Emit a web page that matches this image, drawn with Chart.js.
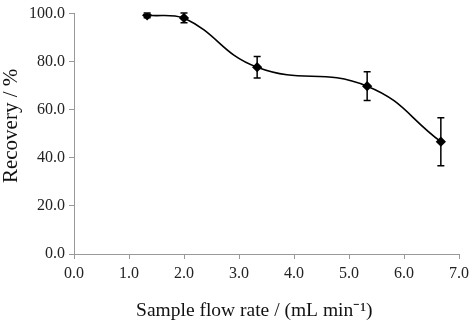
<!DOCTYPE html>
<html><head><meta charset="utf-8">
<script src="https://cdn.jsdelivr.net/npm/chart.js@4"></script>
<style>html,body{margin:0;padding:0;background:#fff}#w{width:474px;height:325px}</style>
</head><body><div id="w"><canvas id="c" width="474" height="325"></canvas></div>
<script>
const flowRates = [1.33, 2.0, 3.33, 5.33, 6.67];
const recovery = [99.3, 98.2, 77.7, 69.8, 46.7];
const errors = [1.0, 2.0, 4.5, 6.0, 10.0];
const xTicks = [0,1,2,3,4,5,6,7];
const yTicks = [0,20,40,60,80,100];

const errorBars = {
  id: 'errorBars',
  afterDatasetsDraw(chart) {
    const ctx = chart.ctx, xs = chart.scales.x, ys = chart.scales.y;
    ctx.save();
    ctx.strokeStyle = '#000'; ctx.lineWidth = 1.5;
    flowRates.forEach((fx, i) => {
      const px = xs.getPixelForValue(fx);
      const top = ys.getPixelForValue(recovery[i] + errors[i]);
      const bot = ys.getPixelForValue(recovery[i] - errors[i]);
      ctx.beginPath();
      ctx.moveTo(px, top); ctx.lineTo(px, bot);
      ctx.moveTo(px - 3.5, top); ctx.lineTo(px + 3.5, top);
      ctx.moveTo(px - 3.5, bot); ctx.lineTo(px + 3.5, bot);
      ctx.stroke();
    });
    ctx.restore();
  }
};

const font = "'Liberation Serif', 'Times New Roman', serif";
new Chart(document.getElementById('c'), {
  type: 'line',
  data: { datasets: [{
    data: flowRates.map((x, i) => ({x, y: recovery[i]})),
    borderColor: '#000', borderWidth: 1.6, tension: 0.45,
    pointStyle: 'rectRot', pointRadius: 4, pointBackgroundColor: '#000', pointBorderColor: '#000',
    fill: false
  }]},
  options: {
    responsive: false, animation: false,
    layout: { padding: { left: 0, right: 15, top: 12, bottom: 0 } },
    plugins: { legend: { display: false }, tooltip: { enabled: false } },
    scales: {
      x: {
        type: 'linear', min: 0, max: 7,
        afterBuildTicks: a => { a.ticks = xTicks.map(v => ({value: v})); },
        ticks: { color: '#222', font: { family: font, size: 16 }, padding: 5, callback: v => v.toFixed(1), maxRotation: 0 },
        grid: { display: true, drawOnChartArea: false, drawTicks: true, tickLength: 5, color: '#999' },
        border: { display: true, color: '#999', width: 1 },
        title: { display: true, text: 'Sample flow rate / (mL min\u207B\u00B9)     ', color: '#111', font: { family: font, size: 19.5 }, padding: { top: 4, bottom: 2 } },
        afterFit: a => { a.height = 325 - 254; }
      },
      y: {
        min: 0, max: 100,
        afterBuildTicks: a => { a.ticks = yTicks.map(v => ({value: v})); },
        ticks: { color: '#222', font: { family: font, size: 16 }, padding: 4, callback: v => v.toFixed(1) },
        grid: { display: true, drawOnChartArea: false, drawTicks: true, tickLength: 5, color: '#999' },
        border: { display: true, color: '#999', width: 1 },
        title: { display: true, text: '   Recovery / %', color: '#111', font: { family: font, size: 21, lineHeight: 1 }, padding: { top: 1, bottom: 0 } },
        afterFit: a => { a.width = 74; }
      }
    }
  },
  plugins: [errorBars]
});
</script></body></html>
